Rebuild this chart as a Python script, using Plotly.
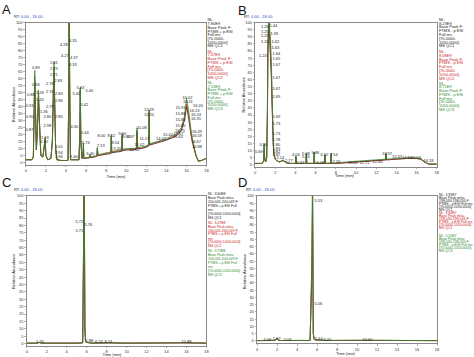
import plotly.graph_objects as go

W, H = 474, 357          # target picture size in pixels
S = 2                    # render at 2x and scale down (allows very small text)
FONT = "Liberation Sans, Arial, sans-serif"
C_QC1, C_QC2, C_QC3 = "#1a1a1a", "#cc2222", "#2e8b2e"
C_BLUE = "#3048c0"

# ---------------- Panel A data (base peak, ESI+) ----------------
a_time = [0.0, 0.6, 0.75, 0.82, 0.89, 0.95, 1.05, 1.15, 1.26, 1.36, 1.5, 1.7, 1.85, 1.93, 2.0,
          2.2, 2.5, 2.65, 2.75, 2.81, 2.88, 2.97, 3.1, 3.5, 4.2, 4.27, 4.32, 4.37, 4.45, 5.3,
          5.38, 5.43, 5.48, 5.6, 5.72, 5.74, 5.78, 6.35, 6.40, 6.45, 7.08, 7.13, 7.18, 8.0, 8.48,
          8.52, 8.56, 9.0, 9.56, 9.60, 9.64, 10.0, 10.6, 11.0, 11.05, 11.08, 11.11, 11.5, 12.0, 12.25,
          12.29, 12.33, 13.0, 14.0, 15.0, 15.5, 15.8, 16.02, 16.2, 16.5, 16.8, 17.0, 17.2, 17.5, 18.0]
a_qc1 = [2, 2, 4, 30, 58, 40, 9, 22, 46, 28, 5, 4, 12, 16, 5,
         2, 3, 15, 50, 64, 40, 10, 2, 1.5, 1.5, 40, 100, 45, 2, 2,
         20, 52, 15, 3, 8, 13, 3, 3.5, 5, 3.5, 4.5, 10, 5, 6, 6.5,
         18, 7, 7.5, 8, 19, 8.5, 9, 9, 9.5, 10, 22, 10, 10, 11, 12,
         36, 12.5, 14, 16, 19, 23, 30, 40, 33, 18, 9, 4, 1, 1.5, 3]
a_qc2 = [2, 2, 4, 32, 62, 42, 9, 23, 50, 29, 5, 4, 13, 17, 5,
         2, 3, 16, 53, 68, 42, 10, 2, 1.5, 1.5, 42, 100, 47, 2, 2,
         21, 53, 16, 3, 8, 13, 3, 3.5, 5, 3.5, 4.5, 10, 5, 6.5, 7,
         19, 7.5, 8, 8.5, 20, 9, 9.5, 9.5, 10, 10.5, 23, 10.5, 10.5, 11.5, 12.5,
         37, 13, 14.5, 16.5, 19.5, 24, 31, 42, 35, 19, 9, 4, 1, 1.5, 3]
a_qc3 = [2, 2, 4, 34, 66, 44, 10, 24, 52, 30, 5, 4, 14, 18, 5,
         2, 3, 17, 56, 72, 44, 11, 2, 1.5, 1.5, 45, 100, 50, 2, 2,
         22, 54, 17, 3, 8, 14, 3, 4, 6, 4, 5, 11, 5.5, 7, 7.5,
         20, 8, 8.5, 9, 21, 9.5, 10, 10, 10.5, 11, 25, 11, 11, 12, 13,
         38, 13.5, 15, 17, 20.5, 25, 33, 46, 38, 21, 10, 4.5, 1, 1.5, 3]
a_lbl_text = ["4.32", "4.28", "4.35", "4.27", "4.37", "4.33", "4.30", "4.40",
              "0.89", "0.94", "0.88", "0.91", "0.90", "0.87",
              "1.26", "1.20", "1.36", "1.93", "1.92",
              "2.81", "2.79", "2.71", "2.83", "2.78", "2.76", "2.83", "2.86", "2.79", "2.80",
              "2.85", "2.98", "3.01", "2.94", "2.96",
              "5.43", "5.40", "5.42", "5.42", "5.44", "5.74", "6.40",
              "7.13", "8.00", "8.52", "8.54", "9.20", "9.60", "9.62", "9.87", "10.60", "11.02",
              "11.17", "11.08", "12.29", "12.20", "14.07", "15.02", "15.62",
              "15.93", "15.86", "15.83", "15.80", "15.75", "15.67",
              "16.02", "16.11", "16.20", "16.13", "16.24", "16.35", "16.49", "16.59", "16.67", "16.88"]
a_lbl_t = [4.29, 3.80, 4.72, 3.90, 4.79, 4.72, 4.85, 4.79,
           0.99, 0.99, 0.50, 0.43, 0.43, 0.36,
           1.42, 1.42, 1.82, 1.92, 1.88,
           2.81, 2.81, 2.81, 3.24, 2.41, 2.41, 3.30, 3.30, 2.41, 2.15,
           3.30, 2.15, 3.30, 3.30, 3.30,
           5.45, 6.37, 5.05, 5.85, 5.91, 5.98, 6.44,
           7.50, 7.56, 8.52, 8.95, 9.15, 9.61, 10.01, 10.47, 10.87, 11.33,
           11.82, 11.59, 12.29, 12.29, 13.47, 14.20, 15.19,
           15.46, 15.46, 15.46, 15.46, 15.40, 15.25,
           16.12, 16.18, 17.17, 16.84, 17.00, 17.00, 17.07, 17.07, 17.00, 17.07]
a_lbl_r = [101.6, 84.4, 87.4, 76.5, 75.4, 70.4, 25.8, 4.7,
           67.8, 55.9, 48.8, 40.5, 32.7, 23.7,
           50.2, 45.3, 36.7, 17.8, 14.9,
           71.3, 67.5, 63.3, 59.0, 56.6, 50.9, 49.5, 44.3, 40.0, 32.7,
           32.7, 26.5, 11.4, 7.1, 4.3,
           54.0, 51.9, 49.1, 41.7, 21.3, 14.2, 6.4,
           12.3, 19.4, 19.4, 14.7, 10.4, 20.6, 18.5, 19.0, 9.2, 12.6,
           17.3, 25.4, 37.7, 34.4, 17.5, 20.1, 18.5,
           39.6, 34.8, 30.6, 26.8, 23.2, 20.9,
           46.7, 43.4, 40.8, 37.4, 34.4, 31.3, 22.5, 19.2, 15.2, 11.4]
a_side_qc1 = ["NL:", "7.80E9", "Base Peak F:", "FTMS + p ESI", "Full ms", "[70.0000-", "1050.0000]", "MS QC1"]
a_side_qc2 = ["NL:", "7.47E9", "Base Peak F:", "FTMS + p ESI", "Full ms", "[70.0000-", "1050.0000]", "MS QC2"]
a_side_qc3 = ["NL:", "7.53E9", "Base Peak F:", "FTMS + p ESI", "Full ms", "[70.0000-", "1050.0000]", "MS QC3"]

# ---------------- Panel B data (base peak, ESI-) ----------------
b_time = [0.0, 0.7, 0.85, 0.90, 0.95, 1.05, 1.15, 1.22, 1.26, 1.30, 1.34, 1.40, 1.44, 1.55, 1.62,
          1.67, 1.73, 1.80, 1.87, 2.0, 2.14, 2.4, 2.77, 3.1, 3.5, 4.0, 4.04, 4.08, 4.93, 5.04,
          5.08, 5.12, 5.82, 5.86, 5.90, 6.88, 6.92, 6.96, 7.50, 7.54, 7.58, 8.0, 9.0, 10.0, 11.0,
          12.0, 12.93, 12.97, 13.01, 14.0, 15.0, 16.0, 16.4, 17.0, 17.3, 18.0]
b_qc1 = [1, 1, 3, 14, 4, 2, 6, 40, 80, 98, 100, 97, 90, 75, 60,
         45, 28, 14, 7, 4, 3, 2, 3, 1.5, 1, 1, 6, 1, 1, 1,
         8, 1, 1, 9, 1, 1, 7, 1, 1, 8, 1, 1, 1.5, 2, 2.5,
         3, 3.5, 8, 3.5, 4, 4.5, 4.5, 4, 1, 0.5, 0.5]
b_qc2 = [1, 1, 3, 12, 4, 2, 5, 35, 75, 97, 100, 98, 92, 78, 63,
         48, 30, 15, 7, 4, 3, 2, 3, 1.5, 1, 1, 5, 1, 1, 1,
         7, 1, 1, 8, 1, 1, 6, 1, 1, 7, 1, 1, 1.5, 2, 2.5,
         3, 3.5, 7, 3.5, 4, 4.5, 4.5, 4, 1, 0.5, 0.5]
b_qc3 = [1, 1, 3, 15, 4, 2, 5, 30, 70, 95, 99, 100, 96, 85, 70,
         52, 32, 16, 8, 4, 3, 2, 3.5, 1.5, 1, 1, 6, 1, 1, 1,
         8, 1.2, 1, 9, 1.2, 1.2, 7, 1.2, 1.2, 8, 1.3, 1.3, 2, 2.5, 3,
         3.5, 4, 8, 4, 4.5, 5, 5, 4.5, 1.2, 0.5, 0.5]
b_lbl_text = ["1.30", "1.34", "1.28", "1.44", "1.25", "1.39", "1.25", "1.26", "1.62", "1.63",
              "1.24", "1.64", "1.65", "1.67", "1.67", "1.67", "1.69", "1.69", "1.73", "1.73",
              "1.78", "1.80", "1.83", "1.82", "1.87", "2.14", "2.77", "0.90", "0.69",
              "4.04", "4.93", "5.08", "5.24", "5.86", "6.08", "6.92", "7.54", "7.59",
              "10.22", "11.71", "12.66", "12.97", "13.37", "14.84", "15.53", "16.18"]
b_lbl_t = [0.46, 1.41, 0.98, 1.84, 0.98, 1.90, 0.98, 0.98, 2.03, 2.03,
           0.79, 2.10, 2.10, 2.10, 2.10, 2.10, 2.10, 2.10, 2.10, 2.10,
           2.10, 2.10, 2.10, 2.10, 2.10, 2.52, 3.34, 0.82, 0.39,
           4.07, 4.52, 5.05, 5.05, 5.97, 6.49, 6.89, 7.80, 8.07,
           9.74, 10.82, 12.13, 13.11, 14.07, 15.08, 15.97, 17.21]
b_lbl_r = [100.5, 101.6, 97.2, 98.1, 94.0, 92.1, 90.7, 87.0, 86.5, 82.8,
           77.2, 78.1, 74.4, 70.7, 61.4, 54.0, 48.1, 34.0, 28.8, 21.9,
           17.9, 14.0, 11.6, 9.3, 7.2, 5.1, 2.8, 14.0, 9.3,
           7.0, 1.6, 7.9, 5.6, 8.6, 1.9, 7.0, 7.4, 2.1,
           1.6, 1.9, 2.3, 7.7, 5.6, 5.1, 4.9, 3.3]
b_side_qc1 = ["NL:", "8.23E9", "Base Peak F:", "FTMS - p ESI", "Full ms", "[70.0000-", "1050.0000]", "MS QC1"]
b_side_qc2 = ["NL:", "8.08E9", "Base Peak F:", "FTMS - p ESI", "Full ms", "[70.0000-", "1050.0000]", "MS QC2"]
b_side_qc3 = ["NL:", "8.71E9", "Base Peak F:", "FTMS - p ESI", "Full ms", "[70.0000-", "1050.0000]", "MS QC3"]

# ---------------- Panel C data (m/z 200.045-200.049, ESI+) ----------------
c_time = [0.0, 1.0, 1.26, 1.5, 5.0, 5.6, 5.68, 5.71, 5.74, 5.77, 5.82, 5.88, 5.95, 6.24, 6.5,
          8.24, 10.0, 15.88, 18.0]
c_qc1 = [0.3, 0.3, 0.8, 0.3, 0.3, 0.5, 60, 90, 100, 85, 10, 2, 0.8, 0.6, 0.3, 0.5, 0.3, 0.5, 0.3]
c_qc2 = [0.3, 0.3, 0.7, 0.3, 0.3, 0.5, 58, 88, 100, 86, 12, 2, 0.8, 0.6, 0.3, 0.5, 0.3, 0.5, 0.3]
c_qc3 = [0.3, 0.3, 0.8, 0.3, 0.3, 0.5, 62, 92, 100, 82, 9, 2.5, 0.9, 0.6, 0.3, 0.5, 0.3, 0.6, 0.3]
c_lbl_text = ["5.74", "5.73", "5.72", "5.76", "5.71", "5.88", "6.24", "8.24", "1.26", "15.88"]
c_lbl_t = [5.70, 6.75, 5.26, 6.19, 5.26, 6.29, 7.22, 8.18, 1.32, 16.03]
c_lbl_r = [101.1, 100.4, 82.5, 80.9, 76.9, 1.8, 1.2, 1.2, 1.2, 1.4]
c_side_qc1 = ["NL: 3.60E8", "Base Peak m/z=", "200.045-200.049 F:", "FTMS + p ESI Full", "ms", "[70.0000-1050.0000]", "MS QC1"]
c_side_qc2 = ["NL: 3.47E8", "Base Peak m/z=", "200.045-200.049 F:", "FTMS + p ESI Full", "ms", "[70.0000-1050.0000]", "MS QC2"]
c_side_qc3 = ["NL: 3.73E8", "Base Peak m/z=", "200.045-200.049 F:", "FTMS + p ESI Full", "ms", "[70.0000-1050.0000]", "MS QC3"]

# ---------------- Panel D data (m/z 198.030-198.034, ESI-) ----------------
d_time = [0.0, 1.56, 1.8, 1.97, 2.03, 2.2, 5.3, 5.48, 5.52, 5.55, 5.58, 5.62, 5.70, 6.0, 7.0, 10.60, 18.0]
d_qc1 = [0.2, 0.5, 0.3, 1.8, 1.2, 0.3, 0.3, 50, 98, 100, 60, 5, 1, 0.5, 0.3, 0.4, 0.2]
d_qc2 = [0.2, 0.5, 0.3, 1.5, 1.0, 0.3, 0.3, 45, 96, 100, 62, 6, 1, 0.5, 0.3, 0.4, 0.2]
d_qc3 = [0.2, 0.6, 0.3, 1.6, 1.1, 0.3, 0.3, 55, 100, 98, 58, 5, 1.2, 0.5, 0.3, 0.4, 0.2]
d_lbl_text = ["5.51", "5.53", "5.56", "5.64", "6.00", "1.56", "1.97", "2.03", "10.60"]
d_lbl_t = [5.60, 6.13, 6.13, 6.19, 7.05, 1.06, 1.99, 3.05, 11.09]
d_lbl_r = [101.6, 96.6, 25.6, 2.0, 1.2, 1.2, 1.8, 1.2, 1.2]
d_side_qc1 = ["NL: 4.93E7", "Base Peak m/z=", "198.030-198.034 F:", "FTMS - p ESI Full ms", "[70.0000-1050.0000]", "MS QC1"]
d_side_qc2 = ["NL: 4.84E7", "Base Peak m/z=", "198.030-198.034 F:", "FTMS - p ESI Full ms", "[70.0000-1050.0000]", "MS QC2"]
d_side_qc3 = ["NL: 5.10E7", "Base Peak m/z=", "198.030-198.034 F:", "FTMS - p ESI Full ms", "[70.0000-1050.0000]", "MS QC3"]

x_ticks = [0, 2, 4, 6, 8, 10, 12, 14, 16, 18]
y_ticks = list(range(0, 101, 5))

# ---------------- layout geometry (pixels of the 474x357 picture) ----------------
panels = [
    dict(letter="A", letter_xy=(0, -1), t=a_time, s=[a_qc1, a_qc2, a_qc3],
         lt=a_lbl_text, lx=a_lbl_t, ly=a_lbl_r, side=[a_side_qc1, a_side_qc2, a_side_qc3],
         box=(25, 207, 21, 164), zero=161.7, rt=(12, 14.7), ytitle=(13, 103), xtitle=(116, 175.5),
         side_x=207, side_y=[18, 49.5, 81], side_dy=3.75, side_fs=4),
    dict(letter="B", letter_xy=(238, 0), t=b_time, s=[b_qc1, b_qc2, b_qc3],
         lt=b_lbl_text, lx=b_lbl_t, ly=b_lbl_r, side=[b_side_qc1, b_side_qc2, b_side_qc3],
         box=(256, 439, 20.7, 166), zero=164, rt=(244, 14.3), ytitle=(245, 93), xtitle=(346, 174.5),
         side_x=440, side_y=[17.5, 50, 81.7], side_dy=3.8, side_fs=4),
    dict(letter="C", letter_xy=(0, 173), t=c_time, s=[c_qc1, c_qc2, c_qc3],
         lt=c_lbl_text, lx=c_lbl_t, ly=c_lbl_r, side=[c_side_qc1, c_side_qc2, c_side_qc3],
         box=(26, 207, 195.3, 346.3), zero=344, rt=(12, 189.3), ytitle=(13, 271), xtitle=(112, 354.5),
         side_x=207.5, side_y=[193, 221.7, 250.7], side_dy=4.0, side_fs=3.5),
    dict(letter="D", letter_xy=(238, 173), t=d_time, s=[d_qc1, d_qc2, d_qc3],
         lt=d_lbl_text, lx=d_lbl_t, ly=d_lbl_r, side=[d_side_qc1, d_side_qc2, d_side_qc3],
         box=(258, 439.3, 195.3, 343.7), zero=341.3, rt=(246, 189), ytitle=(245, 271), xtitle=(347, 354),
         side_x=440, side_y=[193.7, 211.5, 234.7], side_dy=3.2, side_fs=3.5),
]

fig = go.Figure()
layout = dict(width=W * S, height=H * S, margin=dict(l=0, r=0, t=0, b=0),
              paper_bgcolor="white", plot_bgcolor="white", showlegend=False,
              font=dict(family=FONT, size=4 * S, color="#222"))
annotations = []


def px(x):
    return x / W


def py(y):
    return 1 - y / H


colors = [C_QC1, C_QC2, C_QC3]
for i, p in enumerate(panels):
    n = "" if i == 0 else str(i + 1)
    xa, ya = "x" + n, "y" + n
    l, r, top, bot = p["box"]
    ymin = -(bot - p["zero"]) / (p["zero"] - top) * 100
    for series, col in zip(p["s"], colors):
        fig.add_trace(go.Scatter(x=p["t"], y=series, mode="lines", xaxis=xa, yaxis=ya,
                                 line=dict(color=col, width=0.8 * S), hoverinfo="skip"))
    axis_common = dict(showline=True, linecolor="#8a8a8a", linewidth=0.9 * S, mirror=True,
                       showgrid=False, zeroline=False, ticks="outside", ticklen=1.5 * S,
                       tickwidth=0.6 * S, tickcolor="#666",
                       tickfont=dict(size=4 * S, family=FONT, color="#333"))
    layout["xaxis" + n] = dict(domain=[px(l), px(r)], range=[0, 18], tickvals=x_ticks,
                               anchor=ya, **axis_common)
    layout["yaxis" + n] = dict(domain=[py(bot), py(top)], range=[ymin, 100], tickvals=y_ticks,
                               anchor=xa, **axis_common)
    # peak labels
    for txt, tx, ty in zip(p["lt"], p["lx"], p["ly"]):
        annotations.append(dict(x=tx, y=ty, xref=xa, yref=ya, text=txt, showarrow=False,
                                font=dict(size=4 * S, family=FONT, color="#222"),
                                xanchor="center", yanchor="middle"))
    # panel letter
    lx_, ly_ = p["letter_xy"]
    annotations.append(dict(x=px(lx_), y=py(ly_), xref="paper", yref="paper", text=p["letter"],
                            showarrow=False, xanchor="left", yanchor="top",
                            font=dict(size=13 * S, family=FONT, color="#111")))
    # RT range
    rx, ry = p["rt"]
    annotations.append(dict(x=px(rx), y=py(ry), xref="paper", yref="paper",
                            text="RT: <span style='color:%s'>0.00 - 18.00</span>" % C_BLUE,
                            showarrow=False, xanchor="left", yanchor="middle",
                            font=dict(size=4 * S, family=FONT, color="#222")))
    # axis titles
    tx_, ty_ = p["ytitle"]
    annotations.append(dict(x=px(tx_), y=py(ty_), xref="paper", yref="paper", text="Relative Abundance",
                            textangle=-90, showarrow=False, xanchor="center", yanchor="middle",
                            font=dict(size=4 * S, family=FONT, color="#222")))
    tx_, ty_ = p["xtitle"]
    annotations.append(dict(x=px(tx_), y=py(ty_), xref="paper", yref="paper", text="Time (min)",
                            showarrow=False, xanchor="center", yanchor="middle",
                            font=dict(size=4 * S, family=FONT, color="#222")))
    # side info blocks
    for block, col, y0 in zip(p["side"], colors, p["side_y"]):
        for k, line in enumerate(block):
            annotations.append(dict(x=px(p["side_x"]), y=py(y0 + k * p["side_dy"]), xref="paper",
                                    yref="paper", text=line, showarrow=False, xanchor="left",
                                    yanchor="middle",
                                    font=dict(size=p["side_fs"] * S, family=FONT, color=col)))

layout["annotations"] = annotations
fig.update_layout(**layout)

post = ("document.documentElement.style.overflow='hidden';"
        "document.body.style.margin='0';document.body.style.overflow='hidden';"
        "var g=document.getElementById('{plot_id}');"
        "g.style.transformOrigin='0 0';g.style.transform='scale(%s)';" % (1.0 / S))
fig.write_html("out.html", post_script=post, config={"displayModeBar": False})
